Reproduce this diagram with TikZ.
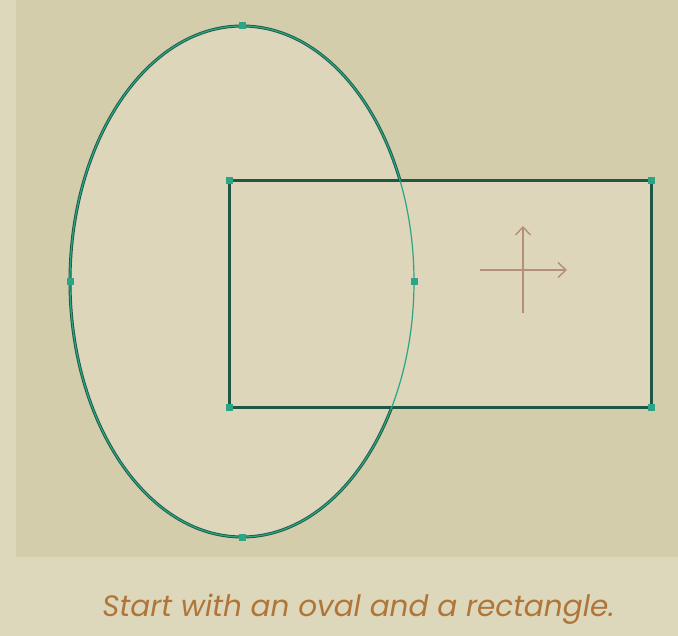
\documentclass[tikz,border=0pt]{standalone}
\usepackage{fontspec}
\setmainfont{Poppins}
\usetikzlibrary{shapes.geometric,arrows.meta}
\definecolor{outerbg}{HTML}{DDD7BB}
\definecolor{panelbg}{HTML}{D3CDAB}
\definecolor{shapefill}{HTML}{DDD6BA}
\definecolor{darkgreen}{HTML}{1E5845}
\definecolor{teal}{HTML}{2BA585}
\definecolor{crosscol}{HTML}{B58E7C}
\definecolor{capcol}{HTML}{B07538}
\tikzset{
  outline/.style={draw=darkgreen, line width=3pt, fill=shapefill, inner sep=0pt, outer sep=0pt},
  handle/.style={fill=teal, draw=none, minimum size=7pt, inner sep=0pt},
  guide/.style={draw=crosscol, line width=1.4pt, -{Straight Barb[length=8pt,width=15pt,line width=1.4pt]}}
}
\begin{document}
\begin{tikzpicture}[x=1pt,y=-1pt]
  \fill[outerbg] (0,0) rectangle (678,636);
  \useasboundingbox (0,0) rectangle (678,636);
  \fill[panelbg] (16,0) rectangle (678,557);
  % oval
  \node[outline, ellipse, minimum width=344pt, minimum height=511pt] (oval) at (242,281.5) {};
  % rectangle
  \node[outline, rectangle, minimum width=422pt, minimum height=227pt] (box) at (440,294.5) {};
  % selection outline of the oval
  \draw[teal, line width=1.2pt] (oval.center) ellipse [x radius=172pt, y radius=255.5pt];
  % handles
  \foreach \a in {north,south,east,west}{\node[handle] at (oval.\a) {};}
  \foreach \a in {north east,north west,south east,south west}{\node[handle] at (box.\a) {};}
  % move cross
  \coordinate (cl) at (480,270);
  \coordinate (cr) at (567,270);
  \coordinate (ct) at (523,226);
  \coordinate (cb) at (523,313);
  \draw[guide] (cl) -- (cr);
  \draw[guide] (cb) -- (ct);
  % caption
  \node[text=capcol, font=\fontsize{29.5}{32}\selectfont\itshape, anchor=base] (cap) at (358.5,616) {Start with an oval and a rectangle.};
\end{tikzpicture}
\end{document}
